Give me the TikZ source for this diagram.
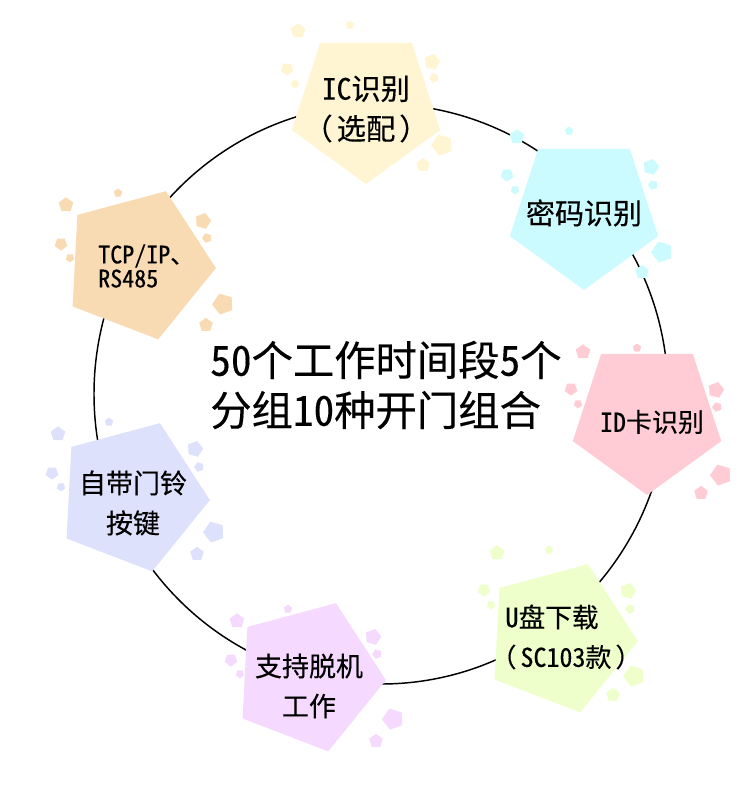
\documentclass[tikz,border=0pt]{standalone}
\usepackage{fontspec}
\setmainfont{Noto Sans CJK SC}[CharacterWidth=Half, FakeBold=0.3]
\newfontfamily\FullParen{Noto Sans CJK SC}[FakeBold=0.3]
\usetikzlibrary{shapes.geometric}
\definecolor{PentYellow}{HTML}{FFF5D2}
\definecolor{PentCyan}{HTML}{CCFBFF}
\definecolor{PentPink}{HTML}{FFCCD5}
\definecolor{PentGreen}{HTML}{EEFFCC}
\definecolor{PentPurple}{HTML}{F5D9FF}
\definecolor{PentBlue}{HTML}{DDE1FB}
\definecolor{PentOrange}{HTML}{F9DBB3}
\newcommand{\SmallPents}[2]{%
    \foreach \px/\py/\r/\a in {#2} {
        \node [Pent, fill=#1, minimum size=1.65pt*\r, regular polygon rotate=\a] (#1-\px) at (\px,\py) {};
    }%
}

\begin{document}
\begin{tikzpicture}[
                x=0.75pt, y=-0.75pt,
                Pent/.style={regular polygon, regular polygon sides=5, draw=none, inner sep=0pt, outer sep=0pt},
                BigPent/.style={Pent, minimum size=117pt},
                Tag/.style={inner sep=0pt, align=center, font=\fontsize{#1}{30pt}\selectfont},
            ]
            \useasboundingbox (0,0) rectangle (750,800);
            \draw [line width=1.1pt] (381,394) ellipse [x radius=287, y radius=290];

            % small ones round each pentagon
            \SmallPents{PentYellow}{298/31/7/0, 350/25/4/0, 287/69/6/36, 295/84/4/36, 432/62/7.5/-15, 434/78/4.5/20, 442/145/10/20, 423/165/6.5/0}
            \SmallPents{PentCyan}{517/137/7/0, 569/131/4/0, 507/175/6/36, 515/190/4/36, 651/167/7.5/-15, 653/185/4.5/20, 662/252/10/20, 642/272/6.5/0}
            \SmallPents{PentPink}{583/352/7/0, 637/348/4/0, 571/389/6/36, 578/404/4/36, 716/390/7.5/-15, 717/407/4.5/20, 721/475/10/20, 701/493/6.5/0}
            \SmallPents{PentGreen}{497/553/7/0, 549/550/4/0, 484/590/6/36, 491/605/4/36, 628/591/7.5/-15, 630/609/4.5/20, 634/676/10/20, 613/695/6.5/0}
            \SmallPents{PentPurple}{237/621/7/0, 288/609/4/0, 231/660/6/36, 240/674/4/36, 373/637/7.5/-15, 377/654/4.5/20, 393/719/10/20, 376/741/6.5/0}
            \SmallPents{PentBlue}{58/434/7/0, 109/422/4/0, 52/473/6/36, 61/487/4/36, 195/449/7.5/-15, 199/467/4.5/20, 214/532/10/20, 197/554/6.5/0}
            \SmallPents{PentOrange}{66/205/7/0, 118/193/4/0, 61/244/6/36, 70/258/4/36, 203/221/7.5/-15, 207/238/4.5/20, 223/304/10/20, 206/325/6.5/0}

            \node [BigPent, fill=PentYellow, regular polygon rotate=180] (card) at (366,106) {};
            \node [BigPent, fill=PentCyan, regular polygon rotate=180] (code) at (584,212) {};
            \node [BigPent, fill=PentPink, regular polygon rotate=180] (id) at (647,417) {};
            \node [BigPent, fill=PentGreen, regular polygon rotate=-21] (udisk) at (560,637) {};
            \node [BigPent, fill=PentPurple, regular polygon rotate=-21] (offline) at (308,676) {};
            \node [BigPent, fill=PentBlue, regular polygon rotate=-21] (bell) at (132,496) {};
            \node [BigPent, fill=PentOrange, regular polygon rotate=-21] (net) at (138,264) {};

            \node [Tag=22] (cardt) at (366,109) {IC识别\\{\FullParen （\kern-3pt\kern6pt 选配\kern3pt ）}};
            \node [Tag=21.75] (codet) at (584,213) {密码识别};
            \node [Tag=19.5] (idt) at (652,422) {ID卡识别};
            \node [Tag=20, anchor=west] (udiskt) at (505,617) {U盘下载};
            \node [Tag=19.5] (sct) at (566,657) {{\FullParen （}\kern3pt SC103款\kern3pt{\FullParen ）}};
            \node [Tag=20.25] (offlinet) at (309,686) {支持脱机\\工作};
            \node [Tag=20.25] (bellt) at (133,503) {自带门铃\\按键};
            \node [Tag=18, anchor=west, align=left, font=\fontsize{18}{18pt}\selectfont] (nett) at (98,266) {TCP/IP、\\RS485};
            \node [inner sep=0pt, anchor=west, align=left, font=\fontsize{31}{37.5pt}\selectfont] (title) at (210,385) {50个工作时间段5个\\分组10种开门组合};
        \end{tikzpicture}
\end{document}
